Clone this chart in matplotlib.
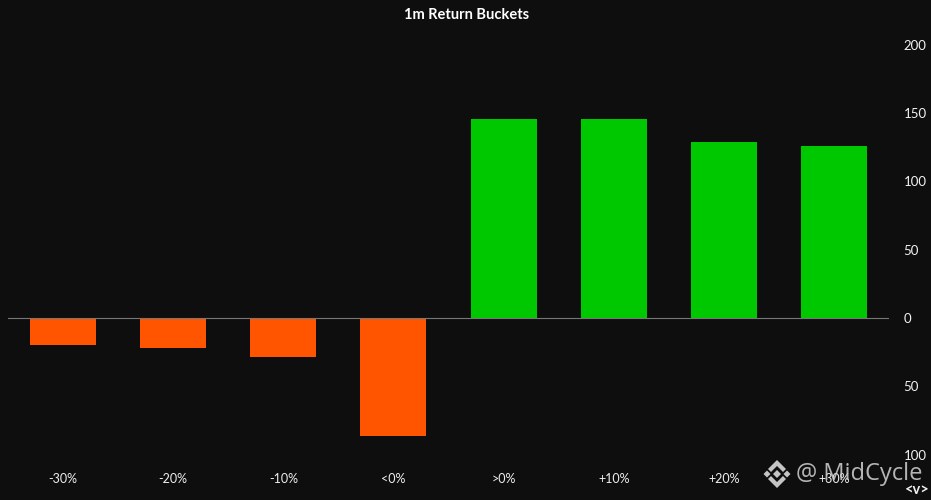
import matplotlib
matplotlib.use('Agg')
import matplotlib.pyplot as plt
from matplotlib.patches import Polygon

categories = ['-30%', '-20%', '-10%', '<0%', '>0%', '+10%', '+20%', '+30%']
values = [-20, -22, -28.5, -86.5, 146, 146, 129, 126]
yticks = [-100, -50, 0, 50, 100, 150, 200]
ytick_labels = ['100', '50', '0', '50', '100', '150', '200']

BG = '#0e0e0e'
RED = '#ff5500'
GREEN = '#00c800'
W, H = 931, 500

plt.rcParams['font.family'] = ['Lato', 'DejaVu Sans']

fig = plt.figure(figsize=(W / 100, H / 100), dpi=100, facecolor=BG)
# axes box in pixels: x 8-889, y 35-465
ax = fig.add_axes([8 / W, 1 - 465 / H, 881 / W, 430 / H], facecolor=BG)

colors = [GREEN if v > 0 else RED for v in values]
ax.bar(range(len(values)), values, width=0.6, color=colors, zorder=2)
ax.axhline(0, color='#777777', lw=0.8, zorder=3)

ax.set_xlim(-0.5, 7.5)
ax.set_ylim(-147 / 1.366, 283 / 1.366)
ax.set_xticks(range(len(categories)))
ax.set_xticklabels(categories, fontsize=9, color='#eeeeee')
ax.set_yticks(yticks)
ax.set_yticklabels(ytick_labels, fontsize=9.5, color='#f2f2f2')
ax.yaxis.tick_right()
ax.tick_params(axis='x', length=0, pad=6)
ax.tick_params(axis='y', length=0, pad=10.5)
for s in ax.spines.values():
    s.set_visible(False)

fig.text(467 / W, 1 - 15 / H, '1m Return Buckets', color='white', fontsize=10.5,
         fontweight='bold', ha='center', va='center')

# watermark, drawn over the chart
def px(x, y):
    return (x / W, 1 - y / H)

def logo_piece(points):
    return Polygon([px(x, y) for x, y in points], closed=True, transform=fig.transFigure,
                   color='#c4c4c4', lw=0, zorder=10)

logo = [
    [(777, 460), (786, 469), (783, 472), (777, 466), (771, 472), (768, 469)],
    [(777, 488), (786, 479), (783, 476), (777, 482), (771, 476), (768, 479)],
    [(777, 470), (781, 474), (777, 478), (773, 474)],
    [(767, 470.5), (770.5, 474), (767, 477.5), (763.5, 474)],
    [(787, 470.5), (790.5, 474), (787, 477.5), (783.5, 474)],
]
for piece in logo:
    fig.add_artist(logo_piece(piece))

fig.text(796 / W, 1 - 474 / H, '@ MidCycle', color='#c8c8c8', fontsize=17, alpha=0.9,
         family='Open Sans', ha='left', va='center', zorder=10)
fig.text(917 / W, 1 - 490 / H, '<v>', color='#f0f0f0', fontsize=10.5, fontweight='bold',
         ha='center', va='center')

fig.savefig('out.png', dpi=100, facecolor=BG)
